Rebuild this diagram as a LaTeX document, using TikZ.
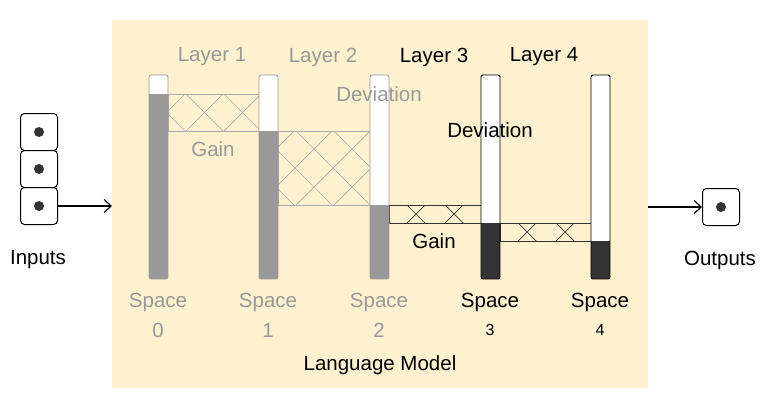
\documentclass[tikz,border=0pt]{standalone}
\usepackage{fontspec}
\setmainfont{Liberation Sans}
\usetikzlibrary{arrows.meta}
\definecolor{bg}{HTML}{FDF1CF}
\definecolor{gr}{HTML}{999999}
\definecolor{dk}{HTML}{333333}
\definecolor{hat}{HTML}{AAAAAA}
\begin{document}
\begin{tikzpicture}[x=1pt,y=-1pt,
  lbl/.style={font=\fontsize{20.5}{22}\selectfont,inner sep=0},
  glbl/.style={lbl,text=gr},
  sm/.style={font=\fontsize{16}{18}\selectfont,inner sep=0},
  box/.style={draw=black,rounded corners=4pt,line width=1pt,fill=white}]
\useasboundingbox (0,0) rectangle (762,412);
\fill[bg] (112,20) rectangle (648,388);
% hatched regions
\newcommand{\hatch}[5]{%
  \begin{scope}
  \clip (#1,#2) rectangle (#3,#4);
  \foreach \k in {-400,-362,...,400}{
    \draw[#5,line width=0.7pt] (#1+\k,#2) -- ++(400,400);
    \draw[#5,line width=0.7pt] (#1+\k,#4) -- ++(400,-400);}
  \end{scope}
  \draw[#5,line width=1pt] (#1,#2) rectangle (#3,#4);}
\hatch{168}{94}{259}{131}{hat}
\hatch{278}{131}{370}{205}{hat}
\hatch{389}{205}{481}{223}{dk}
\hatch{500}{223}{591}{241}{dk}
% bars
\foreach \x/\w/\c in {149/94/gr,259/131/gr,370/205/gr,481/223/dk,591/241/dk}{
  \begin{scope}
  \clip[rounded corners=2pt] (\x,75) rectangle (\x+19,279);
  \fill[white] (\x,75) rectangle (\x+19,\w);
  \fill[\c] (\x,\w) rectangle (\x+19,279);
  \end{scope}}
\foreach \x in {149,259,370}{\draw[gr,line width=0.8pt,rounded corners=2pt] (\x,75) rectangle (\x+19,279);}
\foreach \x in {481,591}{\draw[black,line width=0.9pt,rounded corners=2pt] (\x,75) rectangle (\x+19,279);}
% labels
\node[glbl] (l1) at (212,57) {Layer 1};
\node[glbl] (l2) at (323,57) {Layer 2};
\node[lbl] (l3) at (434,57) {Layer 3};
\node[lbl] (l4) at (544,57) {Layer 4};
\node[glbl] (d1) at (379,94) {Deviation};
\node[lbl] (d2) at (490,130) {Deviation};
\node[glbl] (g1) at (213,149) {Gain};
\node[lbl] (g2) at (434,241) {Gain};
\foreach \x/\n/\s in {158/0/glbl,268/1/glbl,379/2/glbl}{
  \node[\s] (s\n) at (\x,302) {Space};
  \node[\s] (n\n) at (\x,330) {\n};}
\foreach \x/\n in {490/3,600/4}{
  \node[lbl] (s\n) at (\x,302) {Space};
  \node[sm] (n\n) at (\x,330) {\n};}
\node[lbl] (lm) at (380,365) {Language Model};
% inputs
\foreach \y/\i in {113/a,150/b,187/c}{
  \node[box,minimum width=37pt,minimum height=37pt,anchor=north west] (in\i) at (20,\y) {};
  \fill[dk] (in\i.center) circle (5pt);}
\coordinate (lmin) at (112,206);
\draw[-{Straight Barb[length=7pt,width=13pt]},line width=1.2pt] (inc.east) -- (lmin);
\node[lbl] (inl) at (38,260) {Inputs};
\node[box,minimum width=37pt,minimum height=37pt] (out) at (721,207) {};
\fill[dk] (out.center) circle (5pt);
\coordinate (lmout) at (648,207);
\draw[-{Straight Barb[length=7pt,width=13pt]},line width=1.2pt] (lmout) -- (out.west);
\node[lbl] (outl) at (720,260) {Outputs};
\end{tikzpicture}
\end{document}
